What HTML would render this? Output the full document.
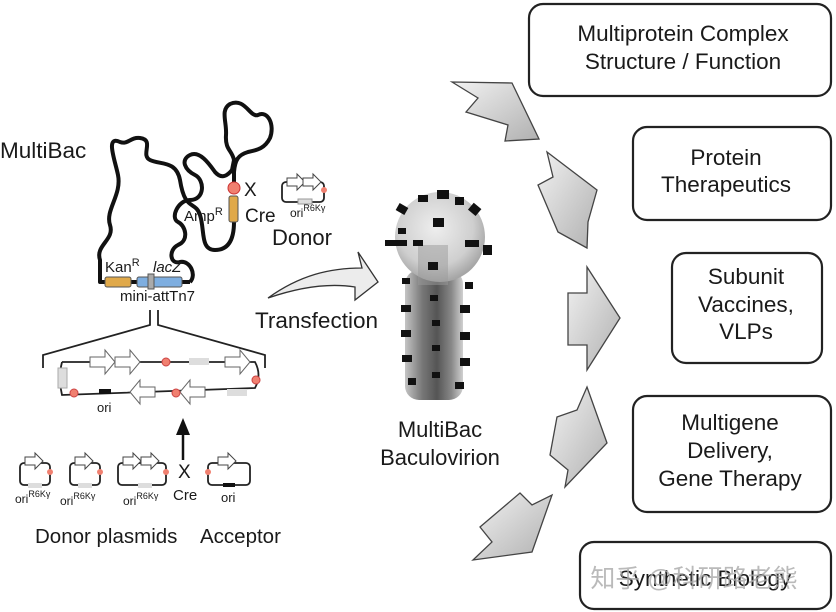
<!DOCTYPE html>
<html><head><meta charset="utf-8"><style>
html,body{margin:0;padding:0;background:#fff}
svg{display:block}
text{font-family:"Liberation Sans",Arial,sans-serif;fill:#1a1a1a}
</style></head><body>
<svg width="836" height="612" viewBox="0 0 836 612" xmlns="http://www.w3.org/2000/svg">
<defs>
<linearGradient id="ag" x1="0" y1="0" x2="1" y2="1"><stop offset="0" stop-color="#f2f2f2"/><stop offset="1" stop-color="#b0b0b0"/></linearGradient>
<radialGradient id="sph" cx="0.45" cy="0.4" r="0.6"><stop offset="0" stop-color="#eee"/><stop offset="0.7" stop-color="#cfcfcf"/><stop offset="1" stop-color="#a5a5a5"/></radialGradient>
<linearGradient id="cyl" x1="0" y1="0" x2="1" y2="0"><stop offset="0" stop-color="#c4c4c4"/><stop offset="0.3" stop-color="#777"/><stop offset="0.55" stop-color="#555"/><stop offset="0.8" stop-color="#888"/><stop offset="1" stop-color="#d0d0d0"/></linearGradient>
</defs>

<!-- Boxes -->
<g fill="#fff" stroke="#222" stroke-width="2.2">
<rect x="529" y="4" width="302" height="92" rx="14"/>
<rect x="633" y="127" width="198" height="93" rx="14"/>
<rect x="672" y="253" width="150" height="110" rx="14"/>
<rect x="633" y="396" width="198" height="116" rx="14"/>
<rect x="580" y="542" width="251" height="67" rx="14"/>
</g>
<g font-size="22.5" text-anchor="middle">
<text x="683" y="41">Multiprotein Complex</text>
<text x="683" y="69">Structure / Function</text>
<text x="726" y="165">Protein</text>
<text x="726" y="192">Therapeutics</text>
<text x="746" y="284">Subunit</text>
<text x="746" y="312">Vaccines,</text>
<text x="746" y="339">VLPs</text>
<text x="730" y="430">Multigene</text>
<text x="730" y="458">Delivery,</text>
<text x="730" y="486">Gene Therapy</text>
<text x="705" y="586">Synthetic Biology</text>
<text x="694" y="587" font-size="25" style="fill:#aaa;opacity:0.8;font-family:'Liberation Sans','Noto Sans CJK SC',sans-serif">知乎 @科研路老熊</text>
</g>

<!-- block arrows -->
<g fill="url(#ag)" stroke="#444" stroke-width="1.3">
<polygon points="452,82 512,83 539,139 505,141 508,125 466,112 478,98"/>
<polygon points="547,152 553,177 538,185 558,232 587,248 588,222 597,190"/>
<polygon points="568,293 587,293 587,267 620,318 587,370 587,345 568,345"/>
<polygon points="587,387 607,443 565,487 568,470 550,455 557,417 577,410"/>
<polygon points="473,560 492,542 480,527 520,493 532,505 552,495 532,552"/>
</g>

<!-- Transfection arrow -->
<path d="M268,298 C300,275 330,268 362,268 L358,252 L378,282 L355,300 L355,287 C330,283 300,287 268,298 Z" fill="#ececec" stroke="#333" stroke-width="1.3"/>
<text x="255" y="328" font-size="22.5">Transfection</text>

<!-- Virion -->
<rect x="405" y="270" width="58" height="130" rx="14" fill="url(#cyl)"/>
<circle cx="440" cy="237" r="45" fill="url(#sph)"/>
<rect x="418" y="245" width="30" height="40" fill="#999" opacity="0.5"/>
<g fill="#111">
<rect x="397" y="205" width="10" height="8" transform="rotate(30 402 209)"/>
<rect x="418" y="195" width="10" height="7"/><rect x="437" y="190" width="12" height="9"/>
<rect x="455" y="197" width="9" height="8"/><rect x="470" y="205" width="10" height="9" transform="rotate(40 475 209)"/>
<rect x="433" y="218" width="11" height="9"/><rect x="385" y="240" width="22" height="6"/>
<rect x="413" y="240" width="10" height="6"/><rect x="465" y="240" width="14" height="7"/>
<rect x="483" y="245" width="9" height="10"/><rect x="398" y="228" width="8" height="6"/>
<rect x="428" y="262" width="10" height="8"/>
<rect x="402" y="278" width="8" height="6"/><rect x="465" y="282" width="8" height="7"/>
<rect x="401" y="305" width="10" height="7"/><rect x="460" y="305" width="10" height="8"/>
<rect x="401" y="330" width="10" height="7"/><rect x="460" y="332" width="10" height="8"/>
<rect x="402" y="355" width="10" height="7"/><rect x="460" y="358" width="10" height="8"/>
<rect x="408" y="378" width="8" height="7"/><rect x="455" y="382" width="9" height="7"/>
<rect x="430" y="295" width="8" height="6"/><rect x="432" y="320" width="8" height="6"/><rect x="432" y="345" width="8" height="6"/><rect x="432" y="372" width="8" height="6"/>
</g>
<g font-size="22" text-anchor="middle">
<text x="440" y="437">MultiBac</text>
<text x="440" y="465">Baculovirion</text>
</g>

<!-- MultiBac DNA -->
<text x="0" y="158" font-size="22.5">MultiBac</text>
<path d="M190,282 C197,275 190,260 180,262 C170,265 168,250 178,245 C190,240 185,225 178,222 C170,218 178,200 190,200 C205,200 205,180 195,175 C185,170 180,160 190,155 C200,150 210,165 215,172 C222,180 228,175 232,170 L234,160 C232,150 225,150 226,135 C227,122 220,110 230,104 C245,97 250,118 258,115 C268,110 275,125 270,138 C265,148 258,150 248,152 C238,155 235,160 234,172 L234,188 M234,222 C234,240 228,250 215,250 C200,250 205,230 200,215 C195,200 185,212 180,180 C176,160 160,165 150,160 C140,155 155,140 140,138 C130,137 128,145 120,142 C105,135 115,160 118,175 C122,195 105,210 110,225 C115,240 95,245 100,260 L100,282 L190,282" fill="none" stroke="#111" stroke-width="4" stroke-linejoin="round"/>
<rect x="105" y="277" width="26" height="10" rx="2" fill="#e0a94a" stroke="#555"/>
<rect x="137" y="277" width="45" height="10" rx="2" fill="#7eaee0" stroke="#555"/>
<rect x="148" y="274" width="6" height="15" fill="#aaa" stroke="#555"/>
<rect x="229" y="196" width="9" height="26" rx="2" fill="#e0a94a" stroke="#555"/>
<circle cx="234" cy="188" r="6" fill="#f08070" stroke="#c33"/>
<text x="105" y="272" font-size="15">Kan<tspan dy="-6" font-size="11">R</tspan></text>
<text x="153" y="272" font-size="15" font-style="italic">lacZ</text>
<text x="184" y="221" font-size="15">Amp<tspan dy="-6" font-size="11">R</tspan></text>
<text x="244" y="196" font-size="19">X</text>
<text x="245" y="222" font-size="19">Cre</text>
<text x="120" y="301" font-size="15">mini-attTn7</text>
<!-- Donor -->
<rect x="282" y="182" width="42" height="20" rx="4" fill="none" stroke="#222" stroke-width="1.8"/>
<g fill="#fff" stroke="#444" stroke-width="1"><polygon points="287,178 297,178 297,174 305,182 297,190 297,186 287,186"/><polygon points="303,178 313,178 313,174 321,182 313,190 313,186 303,186"/></g>
<rect x="298" y="199" width="14" height="5" fill="#ddd" stroke="#999"/><circle cx="324" cy="190" r="3" fill="#f08070"/>
<text x="290" y="217" font-size="12">ori<tspan dy="-6" font-size="9">R6Kγ</tspan></text>
<text x="272" y="245" font-size="22">Donor</text>

<!-- bracket -->
<g fill="none" stroke="#222" stroke-width="1.8">
<path d="M150,310 L150,325 L43,355 L43,368 M158,310 L158,325 L265,355 L265,368"/>
<path d="M62,362 L255,362 Q262,375 255,388 L62,395 Q58,378 62,362"/>
</g>
<g fill="#fff" stroke="#666" stroke-width="1">
<polygon points="90,357 105,357 105,350 115,362 105,374 105,367 90,367"/>
<polygon points="115,357 130,357 130,350 140,362 130,374 130,367 115,367"/>
<polygon points="225,357 240,357 240,350 250,362 240,374 240,367 225,367"/>
<polygon points="155,387 140,387 140,380 130,392 140,404 140,397 155,397"/>
<polygon points="205,387 190,387 190,380 180,392 190,404 190,397 205,397"/>
</g>
<rect x="189" y="358" width="20" height="7" fill="#ddd"/><rect x="58" y="368" width="9" height="20" fill="#ddd" stroke="#aaa"/>
<rect x="227" y="389" width="20" height="7" fill="#ddd"/><rect x="99" y="389" width="12" height="5" fill="#111"/>
<g fill="#f08070" stroke="#c44"><circle cx="166" cy="362" r="4"/><circle cx="256" cy="380" r="4"/><circle cx="74" cy="393" r="4"/><circle cx="176" cy="393" r="4"/></g>
<text x="97" y="412" font-size="13">ori</text>
<path d="M183,460 L183,430" stroke="#111" stroke-width="2.5"/><polygon points="176,435 183,418 190,435" fill="#111"/>
<!-- bottom plasmids -->
<g fill="none" stroke="#222" stroke-width="1.8">
<rect x="20" y="463" width="30" height="22" rx="4"/><rect x="70" y="463" width="30" height="22" rx="4"/>
<rect x="118" y="463" width="48" height="22" rx="4"/><rect x="208" y="463" width="42" height="22" rx="4"/>
</g>
<g fill="#fff" stroke="#444" stroke-width="1">
<polygon points="25,457 35,457 35,453 43,461 35,469 35,465 25,465"/>
<polygon points="75,457 85,457 85,453 93,461 85,469 85,465 75,465"/>
<polygon points="123,457 133,457 133,453 141,461 133,469 133,465 123,465"/>
<polygon points="141,457 151,457 151,453 159,461 151,469 151,465 141,465"/>
<polygon points="218,457 228,457 228,453 236,461 228,469 228,465 218,465"/>
</g>
<g fill="#ddd"><rect x="28" y="483" width="14" height="5"/><rect x="78" y="483" width="14" height="5"/><rect x="138" y="483" width="14" height="5"/></g>
<rect x="223" y="483" width="12" height="4" fill="#111"/>
<g fill="#f08070"><circle cx="50" cy="472" r="3"/><circle cx="100" cy="472" r="3"/><circle cx="166" cy="472" r="3"/><circle cx="208" cy="472" r="3"/></g>
<g font-size="12"><text x="15" y="503">ori<tspan dy="-6" font-size="9">R6Kγ</tspan></text><text x="60" y="505">ori<tspan dy="-6" font-size="9">R6Kγ</tspan></text><text x="123" y="505">ori<tspan dy="-6" font-size="9">R6Kγ</tspan></text><text x="221" y="502" font-size="13">ori</text></g>
<text x="178" y="478" font-size="19">X</text><text x="173" y="500" font-size="15">Cre</text>
<text x="35" y="543" font-size="20.5">Donor plasmids</text>
<text x="200" y="543" font-size="20.5">Acceptor</text>
</svg>
</body></html>
